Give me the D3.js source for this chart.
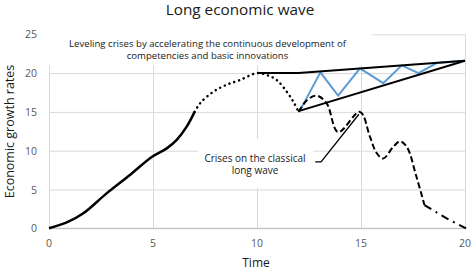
<!DOCTYPE html>
<html>
<head>
<meta charset="utf-8">
<script src="https://cdn.jsdelivr.net/npm/d3@7"></script>
<style>
body { margin: 0; background: #fff; }
text { font-family: "Open Sans", sans-serif; }
</style>
</head>
<body>
<svg width="474" height="271"></svg>
<script>

// DATA

var xTicks = [0, 5, 10, 15, 20];
var yTicks = [0, 5, 10, 15, 20, 25];

// rising part of the wave (solid)
var growthSolid = [[0, 0], [0.93, 0.85], [1.65, 1.93], [2.77, 4.5], [3.89, 6.87], [4.94, 9.2],
    [5.66, 10.3], [6.14, 11.4], [6.62, 13.1], [7, 15]];

// top of the wave (dotted)
var growthDotted = [[7, 15], [7.26, 16.1], [7.9, 17.6], [8.54, 18.5], [9.18, 19.1], [10, 20],
    [10.47, 19.75], [10.95, 19.1], [11.43, 17.6], [11.75, 16.3], [12, 15]];

// crises on the classical long wave (dashed)
var crisesDashed = [[12, 15], [12.4, 16.5], [12.87, 17.1], [13.35, 16.1], [13.9, 12.4], [14.95, 15],
    [15.43, 11.8], [15.75, 9.7], [16.07, 9], [16.55, 10.5], [16.87, 11.2], [17.2, 10.5],
    [17.67, 6.6], [18.05, 3.0]];
var crisesDashDot = [[18.05, 3.0], [19.1, 1.3], [20.05, 0]];

// envelope of leveled crises
var upperEnvelope = [[10, 20], [12, 20], [20, 21.6]];
var lowerEnvelope = [[12, 15.1], [20, 21.6]];

// leveled crises (blue)
var leveled = [[12.07, 15.2], [13.05, 20.1], [13.9, 17.1], [14.95, 20.6], [16.07, 18.7],
    [16.96, 21.0], [17.76, 20.0], [18.64, 21.3], [20, 21.6]];

var pointer = [[12.8, 8.57], [13.08, 8.57], [14.9, 14.7]];

var titleText = "Long economic wave";
var noteTop = ["Leveling crises by accelerating the continuous development of",
    "competencies and basic innovations"];
var noteCrises = ["Crises on the classical", "long wave"];


var svg = d3.select("svg"),
    width = +svg.attr("width"),
    height = +svg.attr("height");

var x = d3.scaleLinear().domain([0, 20]).range([49, 465]);
var y = d3.scaleLinear().domain([0, 25]).range([228.3, 34.3]);

// gridlines
var xAxis = d3.axisBottom(x).tickValues(xTicks).tickSize(-(y(0) - y(25))).tickFormat("");
var yAxis = d3.axisLeft(y).tickValues(yTicks).tickSize(-(x(20) - x(0))).tickFormat("");

var gX = svg.append("g")
    .attr("transform", "translate(0," + y(0) + ")")
    .call(xAxis);
var gY = svg.append("g")
    .attr("transform", "translate(" + x(0) + ",0)")
    .call(yAxis);
svg.selectAll(".domain").remove();
svg.selectAll(".tick line").attr("stroke", "#d9d9d9").attr("stroke-width", 1);

// bottom axis line
svg.append("line")
    .attr("x1", x(0)).attr("x2", x(20))
    .attr("y1", y(0)).attr("y2", y(0))
    .attr("stroke", "#c4c4c4").attr("stroke-width", 1.2);

// tick labels
svg.selectAll(".xlab")
    .data(xTicks)
    .enter().append("text")
    .attr("x", function (d) { return x(d); })
    .attr("y", 247)
    .attr("text-anchor", "middle")
    .attr("font-size", 10.5)
    .attr("fill", "#595959")
    .text(function (d) { return d; });

svg.selectAll(".ylab")
    .data(yTicks)
    .enter().append("text")
    .attr("x", 37)
    .attr("y", function (d) { return y(d) + 4; })
    .attr("text-anchor", "end")
    .attr("font-size", 10.5)
    .attr("fill", "#595959")
    .text(function (d) { return d; });

// white text boxes hide the grid
svg.append("rect")
    .attr("x", 40).attr("y", 29).attr("width", 332).attr("height", 36)
    .attr("fill", "#fff");
svg.append("rect")
    .attr("x", 198).attr("y", 139).attr("width", 115).attr("height", 49)
    .attr("fill", "#fff");

var line = d3.line()
    .x(function (d) { return x(d[0]); })
    .y(function (d) { return y(d[1]); });
var smooth = d3.line()
    .curve(d3.curveCatmullRom)
    .x(function (d) { return x(d[0]); })
    .y(function (d) { return y(d[1]); });

svg.append("path").datum(leveled)
    .attr("d", line)
    .attr("fill", "none").attr("stroke", "#5b9bd5").attr("stroke-width", 2);

svg.append("path").datum(upperEnvelope)
    .attr("d", line)
    .attr("fill", "none").attr("stroke", "#000").attr("stroke-width", 2);
svg.append("path").datum(lowerEnvelope)
    .attr("d", line)
    .attr("fill", "none").attr("stroke", "#000").attr("stroke-width", 2);

svg.append("path").datum(growthSolid)
    .attr("d", smooth)
    .attr("fill", "none").attr("stroke", "#000").attr("stroke-width", 2.5);

svg.append("path").datum(growthDotted)
    .attr("d", smooth)
    .attr("fill", "none").attr("stroke", "#000").attr("stroke-width", 2.5)
    .attr("stroke-linecap", "round")
    .attr("stroke-dasharray", "0.1,5");

svg.append("path").datum(crisesDashed)
    .attr("d", smooth)
    .attr("fill", "none").attr("stroke", "#000").attr("stroke-width", 2)
    .attr("stroke-dasharray", "6,3");

svg.append("path").datum(crisesDashDot)
    .attr("d", line)
    .attr("fill", "none").attr("stroke", "#000").attr("stroke-width", 2)
    .attr("stroke-dasharray", "8,5,2,5");

svg.append("path").datum(pointer)
    .attr("d", line)
    .attr("fill", "none").attr("stroke", "#000").attr("stroke-width", 1.3);

// texts
svg.append("text")
    .attr("x", 240).attr("y", 15)
    .attr("text-anchor", "middle")
    .attr("font-size", 15.3)
    .attr("fill", "#1a1a1a")
    .text(titleText);

svg.append("g").selectAll("text")
    .data(noteTop)
    .enter().append("text")
    .attr("x", 207.5)
    .attr("y", function (d, i) { return 46.5 + i * 12.5; })
    .attr("text-anchor", "middle")
    .attr("font-size", 9.6)
    .attr("fill", "#1a1a1a")
    .text(function (d) { return d; });

svg.append("g").selectAll("text")
    .data(noteCrises)
    .enter().append("text")
    .attr("x", 255)
    .attr("y", function (d, i) { return 161.5 + i * 12.5; })
    .attr("text-anchor", "middle")
    .attr("font-size", 10)
    .attr("fill", "#1a1a1a")
    .text(function (d) { return d; });

svg.append("text")
    .attr("x", 256).attr("y", 266.5)
    .attr("text-anchor", "middle")
    .attr("font-size", 12)
    .attr("fill", "#1a1a1a")
    .text("Time");

svg.append("text")
    .attr("transform", "translate(14,131.5) rotate(-90)")
    .attr("text-anchor", "middle")
    .attr("font-size", 12.5)
    .attr("fill", "#1a1a1a")
    .text("Economic growth rates");

</script>
</body>
</html>
